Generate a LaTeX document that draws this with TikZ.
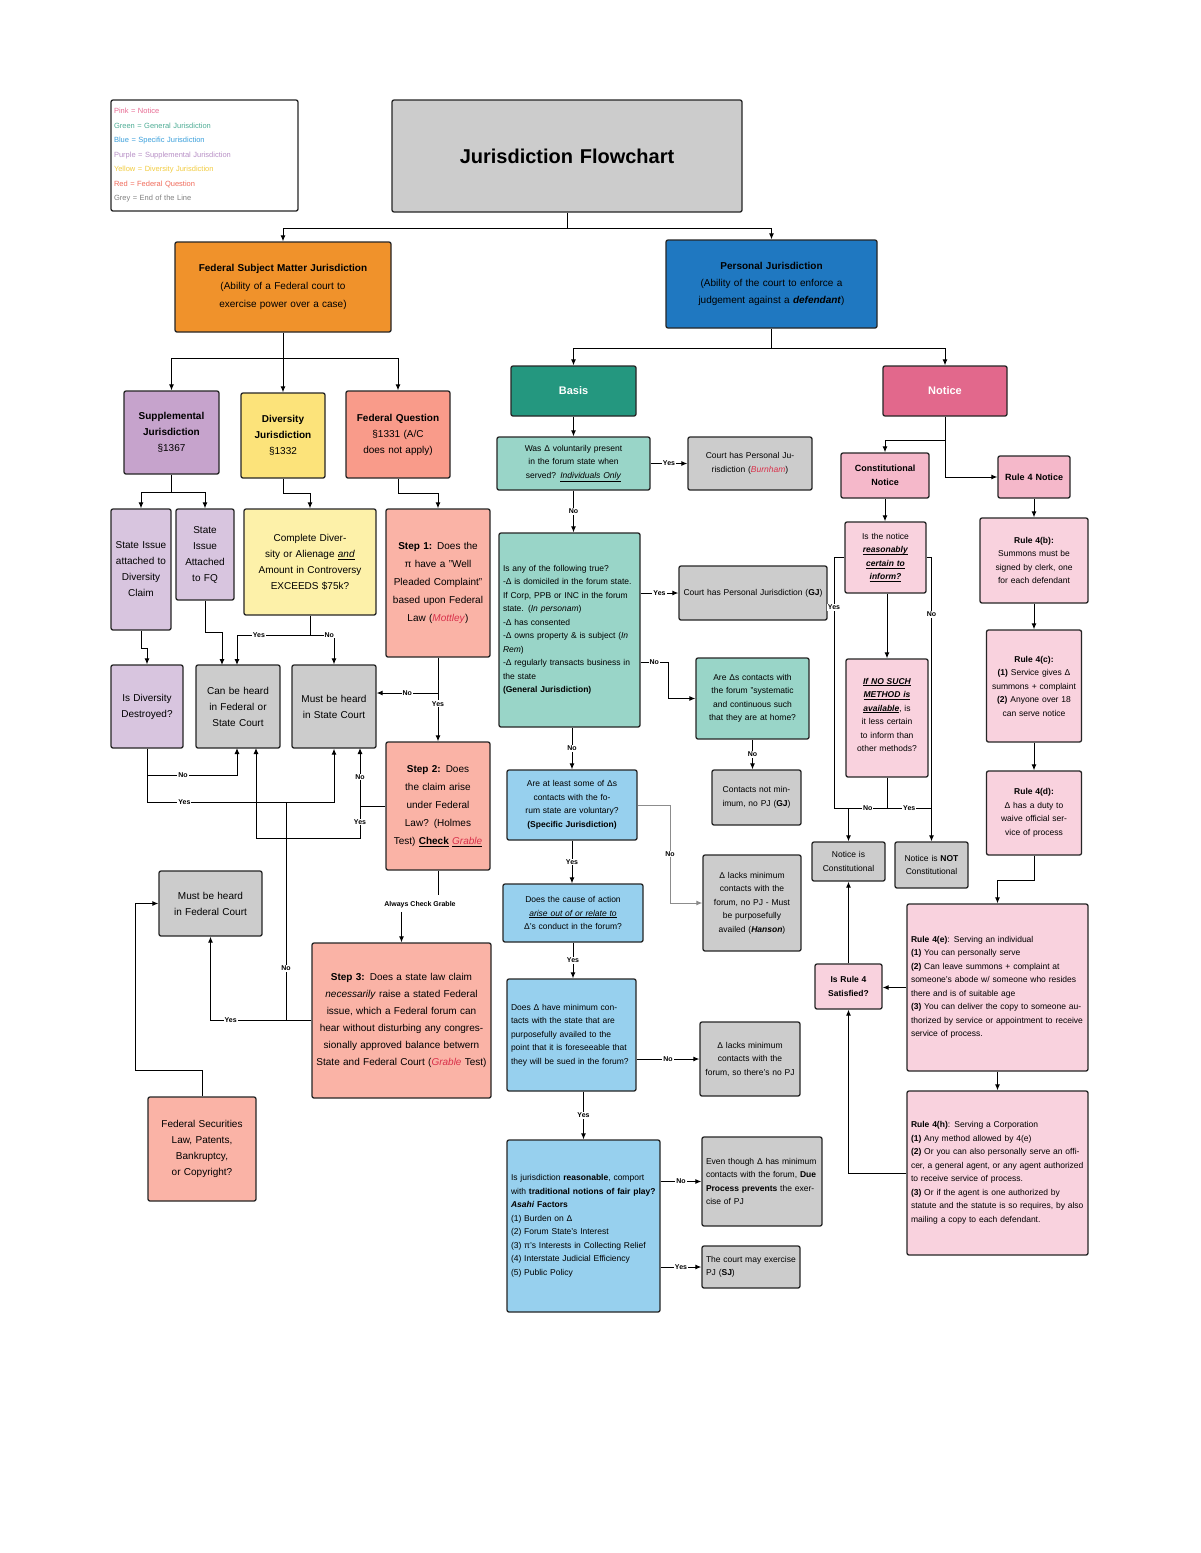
\documentclass[tikz,border=0pt]{standalone}
\usepackage{fontspec}
\setmainfont{Liberation Sans}
\usetikzlibrary{arrows.meta}
\definecolor{corange}{HTML}{F0922B}
\definecolor{cpj}{HTML}{1F78C1}
\definecolor{cpur}{HTML}{C6A3CC}
\definecolor{cyel}{HTML}{FCE37A}
\definecolor{csal}{HTML}{F99B8A}
\definecolor{clpur}{HTML}{D8C5DF}
\definecolor{clyel}{HTML}{FDF1A9}
\definecolor{clsal}{HTML}{FAB3A6}
\definecolor{cgrey}{HTML}{CCCCCC}
\definecolor{cteal}{HTML}{24977F}
\definecolor{cpink}{HTML}{E2688C}
\definecolor{clteal}{HTML}{99D5C8}
\definecolor{clblue}{HTML}{97D0EE}
\definecolor{ccpink}{HTML}{F5B8CA}
\definecolor{clpink}{HTML}{F9D2DE}
\definecolor{cred}{HTML}{D9304A}
\begin{document}
\begin{tikzpicture}[x=1pt,y=-1pt,
  box/.style={draw=black!85,line width=1.3pt,rounded corners=2pt,align=center,inner sep=2pt},
  B/.style={font=\fontsize{10}{16}\selectfont},
  S/.style={font=\fontsize{8.5}{13.5}\selectfont},
  L/.style={align=left},
  arr/.style={line width=1pt,-{Latex[length=6pt,width=5pt]}},
  ln/.style={line width=1pt},
  lab/.style={font=\fontsize{7}{8}\selectfont\bfseries,fill=white,inner sep=1pt}]
\useasboundingbox (0,0) rectangle (1200,1553);
\fill[white] (0,0) rectangle (1200,1553);
\newcommand\bx[6]{\node[box,#1,minimum width=#4,minimum height=#5,text width=#4-8] (#2) at #3 {#6};}
% legend and title
\node[box,L,minimum width=187,minimum height=111,text width=181,font=\fontsize{7.5}{14.5}\selectfont] (legend) at (204.5,155.5) {\textcolor[HTML]{E86A92}{Pink = Notice}\\\textcolor[HTML]{4EAD95}{Green = General Jurisdiction}\\\textcolor[HTML]{3BA0DC}{Blue = Specific Jurisdiction}\\\textcolor[HTML]{B890C6}{Purple = Supplemental Jurisdiction}\\\textcolor[HTML]{F2CC40}{Yellow = Diversity Jurisdiction}\\\textcolor[HTML]{F06B5B}{Red = Federal Question}\\\textcolor[HTML]{808080}{Grey = End of the Line}};
\bx{fill=cgrey,font=\fontsize{20}{24}\selectfont\bfseries}{title}{(567,156)}{350}{112}{Jurisdiction Flowchart}
% federal side
\bx{fill=corange,font=\fontsize{10}{18}\selectfont}{fsmj}{(283,287)}{216}{90}{\textbf{Federal Subject Matter Jurisdiction}\\(Ability of a Federal court to exercise power over a case)}
\bx{fill=cpj,font=\fontsize{10}{17}\selectfont}{pj}{(771.5,284)}{211}{88}{\textbf{Personal Jurisdiction}\\(Ability of the court to enforce a judgement against a \textbf{\textit{defendant}})}
\bx{fill=cpur,B}{supp}{(171.5,432.5)}{95}{83}{\textbf{Supplemental Jurisdiction}\\§1367}
\bx{fill=cyel,B}{div}{(283,435.5)}{84}{85}{\textbf{Diversity Jurisdiction}\\§1332}
\bx{fill=csal,B}{fq}{(398,434.5)}{104}{87}{\textbf{Federal Question}\\§1331 (A/C does not apply)}
\bx{fill=clpur,B}{ssd}{(141,569.5)}{60}{121}{State Issue attached to Diversity Claim}
\bx{fill=clpur,B}{ssf}{(205,554.5)}{58}{91}{State Issue Attached to FQ}
\bx{fill=clyel,B}{cd}{(310,562)}{132}{106}{Complete Diversity or Alienage \underline{\textit{and}} Amount in Controversy EXCEEDS \$75k?}
\bx{fill=clsal,font=\fontsize{10}{18}\selectfont}{s1}{(438,583)}{104}{148}{\textbf{Step 1:} Does the π have a "Well Pleaded Complaint" based upon Federal Law (\textcolor{cred}{\textit{Mottley}})}
\bx{fill=clpur,B}{isd}{(147,706.5)}{72}{83}{Is Diversity Destroyed?}
\bx{fill=cgrey,B}{cbh}{(238,706.5)}{84}{83}{Can be heard in Federal or State Court}
\bx{fill=cgrey,B}{mbs}{(334,706.5)}{84}{83}{Must be heard in State Court}
\bx{fill=clsal,font=\fontsize{10}{18}\selectfont}{s2}{(438,806)}{104}{128}{\textbf{Step 2:} Does the claim arise under Federal Law? (Holmes Test) \textbf{\underline{Check}} \underline{\textcolor{cred}{\textit{Grable}}}}
\bx{fill=cgrey,B}{mbf}{(210.5,903.5)}{103}{65}{Must be heard in Federal Court}
\bx{fill=clsal,font=\fontsize{10}{17}\selectfont}{s3}{(401.5,1020.5)}{179}{155}{\textbf{Step 3:} Does a state law claim \textit{necessarily} raise a stated Federal issue, which a Federal forum can hear without disturbing any congressionally approved balance betwern State and Federal Court (\textcolor{cred}{\textit{Grable}} Test)}
\bx{fill=clsal,B}{fsl}{(202,1149)}{108}{104}{Federal Securities Law, Patents, Bankruptcy, or Copyright?}
% personal jurisdiction side
\bx{fill=cteal,font=\fontsize{11}{13}\selectfont\bfseries,text=white}{basis}{(573.5,391)}{125}{50}{Basis}
\bx{fill=cpink,font=\fontsize{11}{13}\selectfont\bfseries,text=white}{notice}{(945,391)}{124}{50}{Notice}
\bx{fill=clteal,S}{wv}{(573.5,463.5)}{153}{53}{Was Δ voluntarily present in the forum state when served? \underline{\textit{Individuals Only}}}
\bx{fill=cgrey,S}{chp}{(750,463.5)}{124}{53}{Court has Personal Jurisdiction (\textcolor{cred}{\textit{Burnham}})}
\bx{fill=clteal,S,L}{any}{(569.5,630)}{141}{194}{Is any of the following true?\\-Δ is domiciled in the forum state. If Corp, PPB or INC in the forum state. (\textit{In personam})\\-Δ has consented\\-Δ owns property \& is subject (\textit{In Rem})\\-Δ regularly transacts business in the state\\\textbf{(General Jurisdiction)}}
\bx{fill=cgrey,S}{chpgj}{(753,593)}{148}{54}{Court has Personal Jurisdiction (\textbf{GJ})}
\bx{fill=clteal,S}{sys}{(752.5,698.5)}{113}{81}{Are Δs contacts with the forum "systematic and continuous such that they are at home?}
\bx{fill=cgrey,S}{cnm}{(756.5,797.5)}{89}{55}{Contacts not minimum, no PJ (\textbf{GJ})}
\bx{fill=clblue,S}{als}{(572,805)}{130}{70}{Are at least some of Δs contacts with the forum state are voluntary? \textbf{(Specific Jurisdiction)}}
\bx{fill=clblue,S}{dca}{(573,913)}{140}{58}{Does the cause of action \underline{\textit{arise out of or relate to}} Δ's conduct in the forum?}
\bx{fill=cgrey,S}{lmc}{(752,903)}{98}{96}{Δ lacks minimum contacts with the forum, no PJ - Must be purposefully availed (\textbf{\textit{Hanson}})}
\bx{fill=clblue,S,L}{dmc}{(571.5,1035)}{129}{112}{Does Δ have minimum contacts with the state that are purposefully availed to the point that it is foreseeable that they will be sued in the forum?}
\bx{fill=cgrey,S}{lmc2}{(750,1059)}{100}{74}{Δ lacks minimum contacts with the forum, so there's no PJ}
\bx{fill=clblue,S,L}{isj}{(583.5,1226)}{153}{172}{Is jurisdiction \textbf{reasonable}, comport with \textbf{traditional notions of fair play?}\\\textbf{\textit{Asahi} Factors}\\(1) Burden on Δ\\(2) Forum State's Interest\\(3) π's Interests in Collecting Relief\\(4) Interstate Judicial Efficiency\\(5) Public Policy}
\bx{fill=cgrey,S,L}{eth}{(762,1181.5)}{120}{89}{Even though Δ has minimum contacts with the forum, \textbf{Due Process prevents} the exercise of PJ}
\bx{fill=cgrey,S,L}{tcm}{(751,1267)}{98}{42}{The court may exercise PJ (\textbf{SJ})}
% notice side
\bx{fill=ccpink,font=\fontsize{9}{14}\selectfont\bfseries}{cn}{(885,475.5)}{88}{45}{Constitutional Notice}
\bx{fill=ccpink,font=\fontsize{9}{14}\selectfont\bfseries}{r4n}{(1034,477)}{72}{42}{Rule 4 Notice}
\bx{fill=clpink,S}{itn}{(885.5,557.5)}{81}{71}{Is the notice \textbf{\underline{\smash{\textit{reasonably}}}} \textbf{\underline{\smash{\textit{certain to}}}} \textbf{\underline{\smash{\textit{inform?}}}}}
\bx{fill=clpink,S}{ins}{(887,718)}{82}{118}{\textbf{\underline{\smash{\textit{If NO SUCH}}}} \textbf{\underline{\smash{\textit{METHOD is}}}} \textbf{\underline{\smash{\textit{available}}}}, is it less certain to inform than other methods?}
\bx{fill=cgrey,S}{nic}{(848.5,861.5)}{73}{39}{Notice is Constitutional}
\bx{fill=cgrey,S}{nnc}{(931.5,865)}{73}{46}{Notice is \textbf{NOT} Constitutional}
\bx{fill=clpink,S}{r4b}{(1034,560.5)}{108}{85}{\textbf{Rule 4(b):}\\Summons must be signed by clerk, one for each defendant}
\bx{fill=clpink,S}{r4c}{(1034,686)}{95}{112}{\textbf{Rule 4(c):}\\\textbf{(1)} Service gives Δ summons + complaint\\\textbf{(2)} Anyone over 18 can serve notice}
\bx{fill=clpink,S}{r4d}{(1034,813)}{95}{84}{\textbf{Rule 4(d):}\\Δ has a duty to waive official service of process}
\bx{fill=clpink,S}{r4s}{(848.5,986.5)}{67}{45}{\textbf{Is Rule 4 Satisfied?}}
\bx{fill=clpink,S,L}{r4e}{(997.5,987.5)}{181}{167}{\textbf{Rule 4(e)}: Serving an individual\\\textbf{(1)} You can personally serve\\\textbf{(2)} Can leave summons + complaint at someone's abode w/ someone who resides there and is of suitable age\\\textbf{(3)} You can deliver the copy to someone authorized by service or appointment to receive service of process.}
\bx{fill=clpink,S,L}{r4h}{(997.5,1173)}{181}{164}{\textbf{Rule 4(h)}: Serving a Corporation\\\textbf{(1)} Any method allowed by 4(e)\\\textbf{(2)} Or you can also personally serve an officer, a general agent, or any agent authorized to receive service of process.\\\textbf{(3)} Or if the agent is one authorized by statute and the statute is so requires, by also mailing a copy to each defendant.}
% ---- connectors
\draw[ln] (title.south) -- (567,228) coordinate (t1);
\draw[arr] (t1) -| (fsmj.north);
\draw[arr] (t1) -| (pj.north);
\draw[ln] (fsmj.south) -- (283,358) coordinate (f1);
\draw[arr] (f1) -| (supp.north);
\draw[arr] (f1) -- (div.north);
\draw[arr] (f1) -| (fq.north);
\draw[ln] (pj.south) -- (771.5,348) coordinate (p1);
\draw[arr] (p1) -| (basis.north);
\draw[arr] (p1) -| (notice.north);
\draw[ln] (supp.south) -- (171.5,492) coordinate (sp1);
\draw[arr] (sp1) -| (ssd.north);
\draw[arr] (sp1) -| (ssf.north);
\draw[arr] (div.south) -- (283,493) -| (cd.north);
\draw[arr] (fq.south) -- (398,493) -| (s1.north);
\draw[arr] (ssd.south) -- (141,648) -| (isd.north);
\draw[arr] (ssf.south) -- (205,632) -| (222,665);
\draw[ln] (cd.south) -- (310,635) coordinate (c1);
\draw[arr] (c1) -| node[lab,pos=0.35]{Yes} (237,665);
\draw[arr] (c1) -| node[lab,pos=0.4]{No} (mbs.north);
\draw[arr] (s1.south) -- node[lab,pos=0.55]{Yes} (s2.north);
\coordinate (s1n) at (438,693);
\draw[arr] (s1n) -- node[lab]{No} (s1n -| mbs.east);
\draw[arr] (isd.south) |- node[lab,pos=0.7]{No} (237,775) -- (237,748);
\draw[arr] (isd.south) |- node[lab,pos=0.6]{Yes} (334,802) -- (mbs.south);
\draw[arr] (s2.west) -| node[lab,pos=0.75]{No} (360,748);
\draw[arr] (360,806) -- node[lab]{Yes} (360,838) -| (256,748);
\draw[ln] (s3.west) -| node[lab,pos=0.62]{No} (286,802);
\draw[arr] (s3.west) -| node[lab,pos=0.4]{Yes} (mbf.south);
\draw[arr] (fsl.north) -- (202,1070) -| (135,903.5) -- (mbf.west);
\draw[ln] (s2.south) -- (438,895);
\node[font=\fontsize{7}{8}\selectfont\bfseries] (acg) at (420,905) {Always Check Grable};
\draw[arr] (acg.south -| s3.north) -- (s3.north);
% PJ connectors
\draw[arr] (basis) -- (wv);
\draw[arr] (wv) -- node[lab]{Yes} (chp);
\draw[arr] (wv.south) -- node[lab]{No} (wv.south |- any.north);
\draw[arr] (any.east |- chpgj.west) -- node[lab]{Yes} (chpgj.west);
\draw[arr] (any.east |- 0,662) -- node[lab]{No} (668,662) |- (sys.west);
\draw[arr] (sys.south) -- node[lab]{No} (sys.south |- cnm.north);
\draw[arr] (als.north |- any.south) -- node[lab]{No} (als.north);
\draw[arr,black!45] (als.east) -- (670,805) -- node[lab,text=black]{No} (670,903) -- (lmc.west);
\draw[arr] (als.south) -- node[lab]{Yes} (als.south |- dca.north);
\draw[arr] (dca.south) -- node[lab]{Yes} (dca.south |- dmc.north);
\draw[arr] (dmc.east |- lmc2.west) -- node[lab]{No} (lmc2.west);
\draw[arr] (isj.north |- dmc.south) -- node[lab]{Yes} (isj.north);
\draw[arr] (isj.east |- eth.west) -- node[lab]{No} (eth.west);
\draw[arr] (isj.east |- tcm.west) -- node[lab]{Yes} (tcm.west);
% notice connectors
\draw[ln] (notice.south) -- (945,440) coordinate (n1);
\draw[arr] (n1) -| (cn.north);
\draw[arr] (n1) |- (r4n.west);
\draw[arr] (cn) -- (cn.south |- itn.north);
\draw[arr] (ins.north |- itn.south) -- (ins.north);
\draw[arr] (itn.west) -| node[lab,pos=0.6]{Yes} (834,808) -- (848.5,808) -- (nic.north);
\draw[arr] (itn.east) -| node[lab,pos=0.6]{No} (nnc.north);
\draw[ln] (ins.south) -- (887,808);
\draw[ln] (887,808) -- node[lab]{No} (848.5,808);
\draw[ln] (887,808) -- node[lab]{Yes} (931.5,808);
\draw[arr] (r4n) -- (r4b);
\draw[arr] (r4b) -- (r4c);
\draw[arr] (r4c) -- (r4d);
\draw[arr] (r4d.south) -- (1034,880) -| (r4e.north);
\draw[arr] (r4e.west) -- (r4e.west -| r4s.east);
\draw[arr] (r4h.west) -| (r4s.south);
\draw[arr] (r4s.north) -- (nic.south);
\draw[arr] (r4e.south) -- (r4h.north);
\end{tikzpicture}
\end{document}
